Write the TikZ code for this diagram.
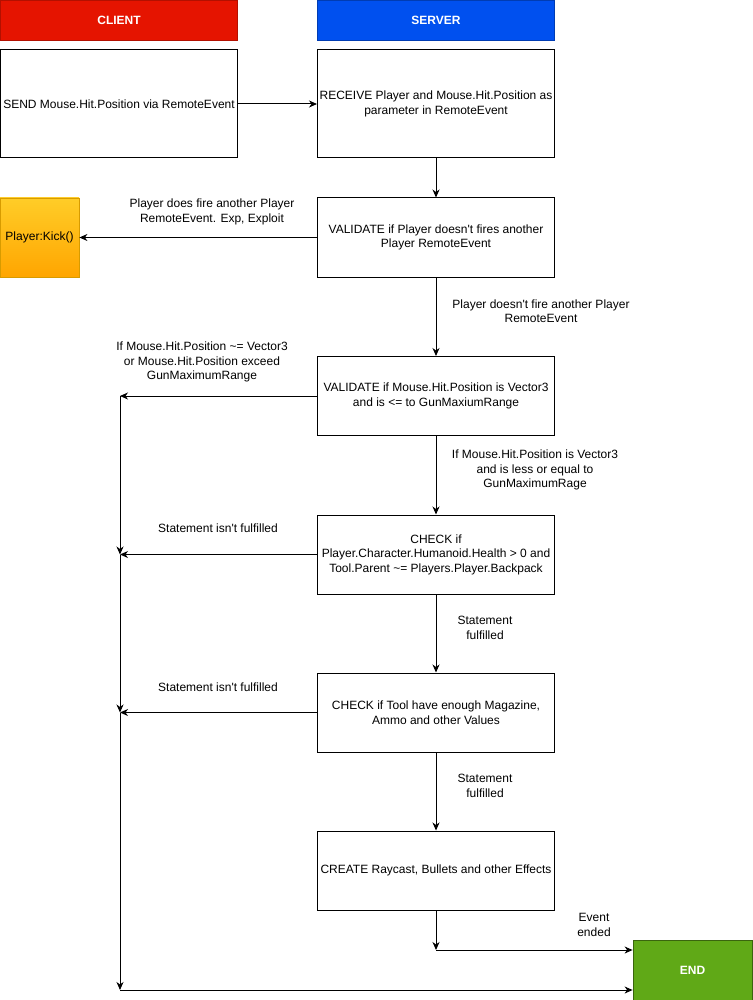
\documentclass[tikz,border=0pt]{standalone}
\usepackage{fontspec}
\setmainfont{Liberation Sans}
\usetikzlibrary{arrows.meta}

\definecolor{clientred}{HTML}{E51400}
\definecolor{serverblue}{HTML}{0050EF}
\definecolor{endgreen}{HTML}{60A917}
\definecolor{kicktop}{HTML}{FFCD28}
\definecolor{kickbottom}{HTML}{FFA500}
\definecolor{kickline}{HTML}{D79B00}
\newcommand{\ap}{\textquotesingle}

\begin{document}
\begin{tikzpicture}[x=1pt,y=-1pt,
    box/.style={draw, line width=1pt, minimum width=237pt, minimum height=79pt,
      inner sep=0pt, align=center, font=\fontsize{12}{14.5}\selectfont},
    head/.style={draw, line width=0.8pt, minimum width=237pt, minimum height=40pt,
      inner sep=0pt, text=white, font=\fontsize{12}{14.5}\selectfont\bfseries},
    lbl/.style={align=center, inner sep=0pt, font=\fontsize{12}{14.5}\selectfont},
    arr/.style={line width=1pt, -{Stealth[length=8pt,width=7pt,inset=2.5pt]}}]

    \useasboundingbox (0,0) rectangle (752,1000);

    \node[head, fill=clientred, draw=clientred!78!black] (client) at (119,20) {CLIENT};
    \node[head, fill=serverblue, draw=serverblue!75!black] (server) at (436,20) {SERVER};

    \node[box, minimum height=108pt] (send) at (119,104) {SEND Mouse.Hit.Position via RemoteEvent};
    \node[box, minimum height=108pt] (receive) at (436,104) {RECEIVE Player and Mouse.Hit.Position as\\parameter in RemoteEvent};
    \node[box, minimum width=79pt, draw=kickline, line width=0.8pt,
      top color=kicktop, bottom color=kickbottom] (kick) at (39.5,237.5) {Player:Kick()};
    \node[box] (check) at (436,237.5) {VALIDATE if Player doesn\ap{}t fires another\\Player RemoteEvent};
    \node[box] (range) at (436,396) {VALIDATE if Mouse.Hit.Position is Vector3\\and is <= to GunMaxiumRange};
    \node[box] (health) at (436,554.5) {CHECK if\\Player.Character.Humanoid.Health > 0 and\\Tool.Parent \textasciitilde= Players.Player.Backpack};
    \node[box] (ammo) at (436,712.5) {CHECK if Tool have enough Magazine,\\Ammo and other Values};
    \node[box] (create) at (436,870.5) {CREATE Raycast, Bullets and other Effects};
    \node[box, minimum width=119pt, minimum height=60pt, fill=endgreen, draw=endgreen!60!black,
      line width=0.8pt, text=white, font=\fontsize{12}{14.5}\selectfont\bfseries] (end) at (692.5,970) {END};

    \coordinate (failA) at (120,396);
    \coordinate (failB) at (120,554.5);
    \coordinate (failC) at (120,712.5);
    \coordinate (failD) at (120,990);
    \coordinate (done) at (436,950);

    \draw[arr] (send) -- (receive);
    \draw[arr] (receive) -- (check);
    \draw[arr] (check) -- (kick);
    \draw[arr] (check) -- (range);
    \draw[arr] (range) -- (health);
    \draw[arr] (health) -- (ammo);
    \draw[arr] (ammo) -- (create);

    \draw[arr] (range.west) -- (failA);
    \draw[arr] (health.west) -- (failB);
    \draw[arr] (ammo.west) -- (failC);
    \draw[arr] (failA) -- (failB);
    \draw[arr] (failB) -- (failC);
    \draw[arr] (failC) -- (failD);
    \draw[arr] (failD) -- (failD -| end.west);

    \draw[arr] (create) -- (done);
    \draw[arr] (done) -- (done -| end.west);

    \node[lbl] (kicklbl) at (212,212) {Player does fire another Player\\RemoteEvent. Exp, Exploit};
    \node[lbl] (passlbl) at (541,311) {Player doesn\ap{}t fire another Player\\RemoteEvent};
    \node[lbl] (rangelbl) at (202,362) {If Mouse.Hit.Position \textasciitilde= Vector3\\or Mouse.Hit.Position exceed\\GunMaximumRange};
    \node[lbl] (inrangelbl) at (535,470) {If Mouse.Hit.Position is Vector3\\and is less or equal to\\GunMaximumRage};
    \node[lbl] (healthlbl) at (218,528) {Statement isn\ap{}t fulfilled};
    \node[lbl] (ammolbl) at (218,687) {Statement isn\ap{}t fulfilled};
    \node[lbl] (healthok) at (485,628) {Statement\\fulfilled};
    \node[lbl] (ammook) at (485,786) {Statement\\fulfilled};
    \node[lbl] (endlbl) at (594,925) {Event\\ended};
\end{tikzpicture}
\end{document}
